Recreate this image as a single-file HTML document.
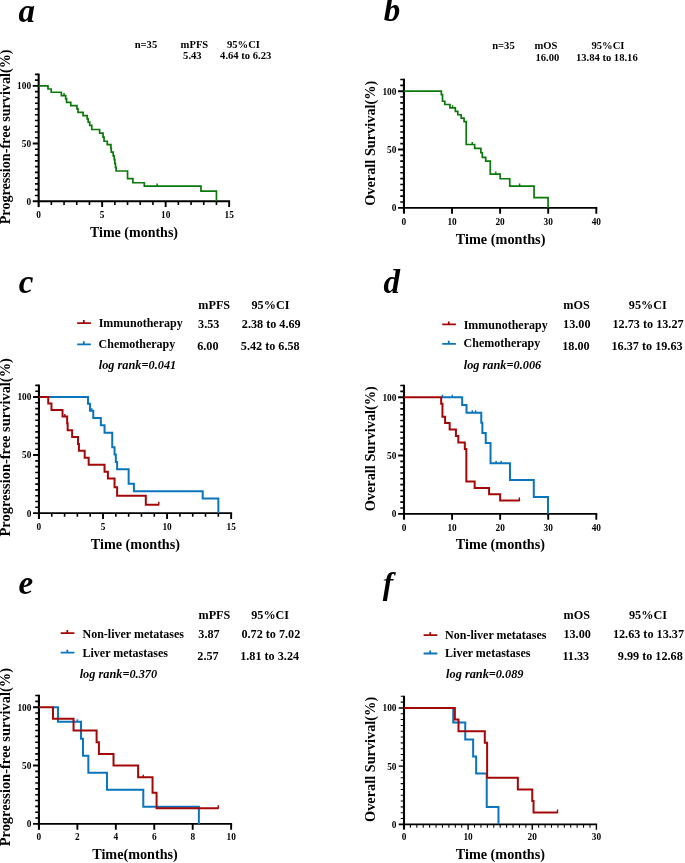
<!DOCTYPE html>
<html lang="en">
<head>
<meta charset="utf-8">
<title>Kaplan-Meier survival curves</title>
<style>
html,body{margin:0;padding:0;background:#fff;}
body{width:685px;height:863px;overflow:hidden;}
svg{display:block;}
text{font-family:"Liberation Serif","Times New Roman",serif;font-weight:bold;fill:#000;}
.tk{font-size:9.3px;}
.ax{font-size:14.1px;}
.pl{font-size:33px;font-style:italic;}
.hd{font-size:10.6px;}
.lg{font-size:12px;}
.nm{font-size:12.2px;}
.lr{font-size:12.3px;font-style:italic;}
</style>
</head>
<body>
<svg width="685" height="863" viewBox="0 0 685 863">
<rect width="685" height="863" fill="#fff"/>
<g>
<path d="M38.65 73.57V207.10" fill="none" stroke="#000" stroke-width="2.10"/>
<path d="M32.75 201.20H230.10" fill="none" stroke="#000" stroke-width="1.85"/>
<path d="M38.65 143.55h-5.90M38.65 85.90h-5.90M102.15 201.20v5.90M165.65 201.20v5.90M229.15 201.20v5.90" stroke="#000" stroke-width="1.90" fill="none"/>
<path d="M38.65 195.44h-3.70M38.65 189.67h-3.70M38.65 183.91h-3.70M38.65 178.14h-3.70M38.65 172.38h-3.70M38.65 166.61h-3.70M38.65 160.84h-3.70M38.65 155.08h-3.70M38.65 149.31h-3.70M38.65 137.78h-3.70M38.65 132.02h-3.70M38.65 126.25h-3.70M38.65 120.49h-3.70M38.65 114.73h-3.70M38.65 108.96h-3.70M38.65 103.20h-3.70M38.65 97.43h-3.70M38.65 91.67h-3.70M38.65 80.14h-3.70M38.65 74.37h-3.70M51.35 201.20v3.70M64.05 201.20v3.70M76.75 201.20v3.70M89.45 201.20v3.70M114.85 201.20v3.70M127.55 201.20v3.70M140.25 201.20v3.70M152.95 201.20v3.70M178.35 201.20v3.70M191.05 201.20v3.70M203.75 201.20v3.70M216.45 201.20v3.70" stroke="#000" stroke-width="1.60" fill="none"/>
<path d="M38.65 85.90H47.98V89.01H51.22V92.24H61.38V95.59H65.70V98.93H66.59V102.39H70.78V105.62H77.00V108.96H78.02V112.30H83.10V115.53H87.16V118.88H88.18V122.10H89.70V125.45H91.74V129.48H99.61V133.17H103.04V137.21H104.06V141.24H107.23V144.59H110.91V148.39H111.29V152.08H113.20V155.89H114.22V159.69H114.85V163.50H115.48V167.30H116.12V170.99H127.55V178.60H132.88V182.75H144.31V186.10H200.96V191.17H216.45V201.20" fill="none" stroke="#0a780a" stroke-width="1.70" stroke-linejoin="miter"/>
<path d="M64.05 95.59v-2.5M157.14 186.10v-2.5" fill="none" stroke="#0a780a" stroke-width="1.45"/>
<text class="tk" x="31.05" y="204.60" text-anchor="end">0</text>
<text class="tk" x="31.05" y="146.95" text-anchor="end">50</text>
<text class="tk" x="31.05" y="89.30" text-anchor="end">100</text>
<text class="tk" x="38.65" y="217.90" text-anchor="middle">0</text>
<text class="tk" x="102.15" y="217.90" text-anchor="middle">5</text>
<text class="tk" x="165.65" y="217.90" text-anchor="middle">10</text>
<text class="tk" x="229.15" y="217.90" text-anchor="middle">15</text>
<text class="ax" style="font-size:14.00px" x="134.00" y="236.70" text-anchor="middle">Time (months)</text>
<text class="ax" style="font-size:14.15px" transform="translate(10.40 136.90) rotate(-90)" text-anchor="middle">Progression-free survival(%)</text>
<text class="pl" x="18.40" y="21.50">a</text>
<text class="hd" x="134.70" y="47.80">n=35</text>
<text class="hd" x="180.60" y="47.80">mPFS</text>
<text class="hd" x="227.00" y="47.80">95%CI</text>
<text class="hd" x="183.10" y="59.40">5.43</text>
<text class="hd" x="220.10" y="59.40">4.64 to 6.23</text>
</g>
<g>
<path d="M403.95 78.74V213.70" fill="none" stroke="#000" stroke-width="2.10"/>
<path d="M398.05 207.80H597.25" fill="none" stroke="#000" stroke-width="1.85"/>
<path d="M403.95 149.50h-5.90M403.95 91.20h-5.90M452.04 207.80v5.90M500.12 207.80v5.90M548.21 207.80v5.90M596.30 207.80v5.90" stroke="#000" stroke-width="1.90" fill="none"/>
<path d="M403.95 201.97h-3.70M403.95 196.14h-3.70M403.95 190.31h-3.70M403.95 184.48h-3.70M403.95 178.65h-3.70M403.95 172.82h-3.70M403.95 166.99h-3.70M403.95 161.16h-3.70M403.95 155.33h-3.70M403.95 143.67h-3.70M403.95 137.84h-3.70M403.95 132.01h-3.70M403.95 126.18h-3.70M403.95 120.35h-3.70M403.95 114.52h-3.70M403.95 108.69h-3.70M403.95 102.86h-3.70M403.95 97.03h-3.70M403.95 85.37h-3.70M403.95 79.54h-3.70" stroke="#000" stroke-width="1.60" fill="none"/>
<path d="M403.95 91.20H441.36V94.58H442.52V101.23H444.82V104.49H449.97V107.87H455.36V111.37H457.81V114.75H461.17V118.13H464.06V121.63H466.22V144.49H474.64V148.33H480.89V152.76H482.33V157.31H485.70V161.16H490.27V174.10H500.12V178.77H509.74V186.11H534.03V197.54H548.07V207.80" fill="none" stroke="#0a780a" stroke-width="1.70" stroke-linejoin="miter"/>
<path d="M452.52 107.87v-2.5M472.23 144.49v-2.5M495.80 174.10v-2.5M519.60 186.11v-2.5" fill="none" stroke="#0a780a" stroke-width="1.45"/>
<text class="tk" x="396.35" y="211.20" text-anchor="end">0</text>
<text class="tk" x="396.35" y="152.90" text-anchor="end">50</text>
<text class="tk" x="396.35" y="94.60" text-anchor="end">100</text>
<text class="tk" x="403.95" y="224.50" text-anchor="middle">0</text>
<text class="tk" x="452.04" y="224.50" text-anchor="middle">10</text>
<text class="tk" x="500.12" y="224.50" text-anchor="middle">20</text>
<text class="tk" x="548.21" y="224.50" text-anchor="middle">30</text>
<text class="tk" x="596.30" y="224.50" text-anchor="middle">40</text>
<text class="ax" style="font-size:14.25px" x="500.60" y="243.65" text-anchor="middle">Time (months)</text>
<text class="ax" style="font-size:14.30px" transform="translate(374.80 143.20) rotate(-90)" text-anchor="middle">Overall Survival(%)</text>
<text class="pl" x="383.70" y="21.45">b</text>
<text class="hd" x="492.20" y="48.90">n=35</text>
<text class="hd" x="534.40" y="48.90">mOS</text>
<text class="hd" x="591.50" y="48.90">95%CI</text>
<text class="hd" x="535.40" y="60.60">16.00</text>
<text class="hd" x="575.90" y="60.60">13.84 to 18.16</text>
</g>
<g>
<path d="M38.95 384.59V519.00" fill="none" stroke="#000" stroke-width="2.10"/>
<path d="M33.05 513.10H232.10" fill="none" stroke="#000" stroke-width="1.85"/>
<path d="M38.95 455.05h-5.90M38.95 397.00h-5.90M103.02 513.10v5.90M167.08 513.10v5.90M231.15 513.10v5.90" stroke="#000" stroke-width="1.90" fill="none"/>
<path d="M38.95 507.30h-3.70M38.95 501.49h-3.70M38.95 495.69h-3.70M38.95 489.88h-3.70M38.95 484.08h-3.70M38.95 478.27h-3.70M38.95 472.47h-3.70M38.95 466.66h-3.70M38.95 460.86h-3.70M38.95 449.25h-3.70M38.95 443.44h-3.70M38.95 437.63h-3.70M38.95 431.83h-3.70M38.95 426.02h-3.70M38.95 420.22h-3.70M38.95 414.42h-3.70M38.95 408.61h-3.70M38.95 402.81h-3.70M38.95 391.19h-3.70M38.95 385.39h-3.70M51.76 513.10v3.70M64.58 513.10v3.70M77.39 513.10v3.70M90.20 513.10v3.70M115.83 513.10v3.70M128.64 513.10v3.70M141.46 513.10v3.70M154.27 513.10v3.70M179.90 513.10v3.70M192.71 513.10v3.70M205.52 513.10v3.70M218.34 513.10v3.70" stroke="#000" stroke-width="1.60" fill="none"/>
<path d="M48.30 397.00H88.03V403.85H89.95V410.70H93.28V418.01H100.84V425.33H104.55V432.64H112.24V447.27H114.55V454.59H115.83V461.90H117.11V469.21H128.64V483.84H133.90V491.16H202.70V498.47H218.34V513.10" fill="none" stroke="#0a74bc" stroke-width="2.00" stroke-linejoin="miter"/>
<path d="M91.74 410.70v-2.5" fill="none" stroke="#0a74bc" stroke-width="1.45"/>
<path d="M158.81 504.74v-2.5" fill="none" stroke="#a30808" stroke-width="1.4" stroke-linecap="round"/>
<path d="M38.95 397.00H48.25V403.50H51.46V409.89H62.53V416.39H67.14V423.24H67.65V430.20H72.14V437.05H78.03V444.02H78.93V450.87H84.69V457.84H88.67V464.69H104.55V471.65H107.89V478.50H114.55V487.21H117.11V495.80H145.81V504.74H159.01" fill="none" stroke="#a30808" stroke-width="2.00" stroke-linejoin="miter"/>
<path d="M64.83 416.39v-2.5" fill="none" stroke="#a30808" stroke-width="1.45"/>
<text class="tk" x="31.35" y="516.50" text-anchor="end">0</text>
<text class="tk" x="31.35" y="458.45" text-anchor="end">50</text>
<text class="tk" x="31.35" y="400.40" text-anchor="end">100</text>
<text class="tk" x="38.95" y="529.80" text-anchor="middle">0</text>
<text class="tk" x="103.02" y="529.80" text-anchor="middle">5</text>
<text class="tk" x="167.08" y="529.80" text-anchor="middle">10</text>
<text class="tk" x="231.15" y="529.80" text-anchor="middle">15</text>
<text class="ax" style="font-size:14.20px" x="135.40" y="549.20" text-anchor="middle">Time (months)</text>
<text class="ax" style="font-size:14.45px" transform="translate(10.40 447.30) rotate(-90)" text-anchor="middle">Progression-free survival(%)</text>
<text class="pl" x="18.80" y="292.90">c</text>
<text class="lg" x="98.70" y="326.90">Immunotherapy</text>
<text class="lg" x="98.60" y="348.40">Chemotherapy</text>
<text class="lr" x="98.80" y="369.30">log rank=0.041</text>
<text class="nm" x="198.30" y="308.90">mPFS</text>
<text class="nm" x="251.50" y="308.90">95%CI</text>
<text class="nm" x="198.10" y="327.80">3.53</text>
<text class="nm" x="241.80" y="327.80">2.38 to 4.69</text>
<text class="nm" x="197.20" y="349.70">6.00</text>
<text class="nm" x="240.80" y="349.70">5.42 to 6.58</text>
<path d="M77.20 323.10h13.7M83.80 323.10v-3" fill="none" stroke="#a30808" stroke-width="1.8"/>
<path d="M77.20 344.30h13.7M83.80 344.30v-3" fill="none" stroke="#0a74bc" stroke-width="1.8"/>
</g>
<g>
<path d="M404.00 384.74V519.70" fill="none" stroke="#000" stroke-width="2.10"/>
<path d="M398.10 513.80H597.25" fill="none" stroke="#000" stroke-width="1.85"/>
<path d="M404.00 455.50h-5.90M404.00 397.20h-5.90M452.07 513.80v5.90M500.15 513.80v5.90M548.22 513.80v5.90M596.30 513.80v5.90" stroke="#000" stroke-width="1.90" fill="none"/>
<path d="M404.00 507.97h-3.70M404.00 502.14h-3.70M404.00 496.31h-3.70M404.00 490.48h-3.70M404.00 484.65h-3.70M404.00 478.82h-3.70M404.00 472.99h-3.70M404.00 467.16h-3.70M404.00 461.33h-3.70M404.00 449.67h-3.70M404.00 443.84h-3.70M404.00 438.01h-3.70M404.00 432.18h-3.70M404.00 426.35h-3.70M404.00 420.52h-3.70M404.00 414.69h-3.70M404.00 408.86h-3.70M404.00 403.03h-3.70M404.00 391.37h-3.70M404.00 385.54h-3.70" stroke="#000" stroke-width="1.60" fill="none"/>
<path d="M441.26 397.20H462.17V405.01H466.50V412.71H481.26V422.85H482.36V433.00H485.73V443.02H490.53V463.31H509.96V480.10H533.80V496.89H547.98V513.80" fill="none" stroke="#0a74bc" stroke-width="2.00" stroke-linejoin="miter"/>
<path d="M442.46 397.20v-2.5M452.32 397.20v-2.5M472.27 412.71v-2.5M475.63 412.71v-2.5M496.06 463.31v-2.5M501.11 463.31v-2.5" fill="none" stroke="#0a74bc" stroke-width="1.45"/>
<path d="M519.37 500.51v-2.5" fill="none" stroke="#a30808" stroke-width="1.4" stroke-linecap="round"/>
<path d="M404.00 397.20H441.16V403.73H442.46V416.67H445.10V423.09H449.67V429.61H455.92V436.03H458.32V442.56H464.81V448.97H466.35V481.39H474.67V487.91H489.09V494.33H500.15V500.51H519.57" fill="none" stroke="#a30808" stroke-width="2.00" stroke-linejoin="miter"/>
<text class="tk" x="396.40" y="517.20" text-anchor="end">0</text>
<text class="tk" x="396.40" y="458.90" text-anchor="end">50</text>
<text class="tk" x="396.40" y="400.60" text-anchor="end">100</text>
<text class="tk" x="404.00" y="530.50" text-anchor="middle">0</text>
<text class="tk" x="452.07" y="530.50" text-anchor="middle">10</text>
<text class="tk" x="500.15" y="530.50" text-anchor="middle">20</text>
<text class="tk" x="548.22" y="530.50" text-anchor="middle">30</text>
<text class="tk" x="596.30" y="530.50" text-anchor="middle">40</text>
<text class="ax" style="font-size:14.20px" x="500.40" y="549.20" text-anchor="middle">Time (months)</text>
<text class="ax" style="font-size:14.30px" transform="translate(374.80 448.70) rotate(-90)" text-anchor="middle">Overall Survival(%)</text>
<text class="pl" x="383.50" y="293.00">d</text>
<text class="lg" x="463.70" y="328.80">Immunotherapy</text>
<text class="lg" x="463.60" y="347.20">Chemotherapy</text>
<text class="lr" x="463.80" y="369.00">log rank=0.006</text>
<text class="nm" x="563.30" y="308.90">mOS</text>
<text class="nm" x="628.80" y="308.90">95%CI</text>
<text class="nm" x="563.10" y="327.80">13.00</text>
<text class="nm" x="612.50" y="327.80">12.73 to 13.27</text>
<text class="nm" x="562.20" y="349.70">18.00</text>
<text class="nm" x="611.50" y="349.70">16.37 to 19.63</text>
<path d="M442.20 324.40h13.7M448.80 324.40v-3" fill="none" stroke="#a30808" stroke-width="1.8"/>
<path d="M442.20 343.80h13.7M448.80 343.80v-3" fill="none" stroke="#0a74bc" stroke-width="1.8"/>
</g>
<g>
<path d="M38.94 694.73V829.80" fill="none" stroke="#000" stroke-width="2.10"/>
<path d="M33.04 823.90H232.10" fill="none" stroke="#000" stroke-width="1.85"/>
<path d="M38.94 765.55h-5.90M38.94 707.20h-5.90M77.38 823.90v5.90M115.82 823.90v5.90M154.27 823.90v5.90M192.71 823.90v5.90M231.15 823.90v5.90" stroke="#000" stroke-width="1.90" fill="none"/>
<path d="M38.94 818.06h-3.70M38.94 812.23h-3.70M38.94 806.39h-3.70M38.94 800.56h-3.70M38.94 794.73h-3.70M38.94 788.89h-3.70M38.94 783.05h-3.70M38.94 777.22h-3.70M38.94 771.38h-3.70M38.94 759.72h-3.70M38.94 753.88h-3.70M38.94 748.05h-3.70M38.94 742.21h-3.70M38.94 736.38h-3.70M38.94 730.54h-3.70M38.94 724.71h-3.70M38.94 718.87h-3.70M38.94 713.04h-3.70M38.94 701.37h-3.70M38.94 695.53h-3.70" stroke="#000" stroke-width="1.60" fill="none"/>
<path d="M53.16 707.20H57.97V721.79H81.03V738.71H82.96V755.86H88.34V772.84H106.98V789.82H143.31V806.63H198.86V823.90" fill="none" stroke="#0a74bc" stroke-width="2.00" stroke-linejoin="miter"/>
<path d="M77.38 721.79v-2.5" fill="none" stroke="#0a74bc" stroke-width="1.45"/>
<path d="M218.26 808.15v-2.5" fill="none" stroke="#a30808" stroke-width="1.4" stroke-linecap="round"/>
<path d="M38.94 707.20H52.97V718.87H73.54V730.54H96.60V742.21H98.91V753.88H113.52V765.55H138.12V777.22H152.54V792.74H156.57V808.15H218.46" fill="none" stroke="#a30808" stroke-width="2.00" stroke-linejoin="miter"/>
<path d="M143.31 777.22v-2.5" fill="none" stroke="#a30808" stroke-width="1.45"/>
<text class="tk" x="31.34" y="827.30" text-anchor="end">0</text>
<text class="tk" x="31.34" y="768.95" text-anchor="end">50</text>
<text class="tk" x="31.34" y="710.60" text-anchor="end">100</text>
<text class="tk" x="38.94" y="839.80" text-anchor="middle">0</text>
<text class="tk" x="77.38" y="839.80" text-anchor="middle">2</text>
<text class="tk" x="115.82" y="839.80" text-anchor="middle">4</text>
<text class="tk" x="154.27" y="839.80" text-anchor="middle">6</text>
<text class="tk" x="192.71" y="839.80" text-anchor="middle">8</text>
<text class="tk" x="231.15" y="839.80" text-anchor="middle">10</text>
<text class="ax" style="font-size:14.20px" x="135.00" y="859.40" text-anchor="middle">Time(months)</text>
<text class="ax" style="font-size:14.45px" transform="translate(10.40 757.10) rotate(-90)" text-anchor="middle">Progression-free survival(%)</text>
<text class="pl" x="18.50" y="593.80">e</text>
<text class="lg" x="82.50" y="637.80">Non-liver metatases</text>
<text class="lg" x="82.50" y="656.80">Liver metastases</text>
<text class="lr" x="79.70" y="677.70">log rank=0.370</text>
<text class="nm" x="198.50" y="618.80">mPFS</text>
<text class="nm" x="251.20" y="618.80">95%CI</text>
<text class="nm" x="198.30" y="637.80">3.87</text>
<text class="nm" x="241.40" y="637.80">0.72 to 7.02</text>
<text class="nm" x="197.30" y="659.70">2.57</text>
<text class="nm" x="240.20" y="659.70">1.81 to 3.24</text>
<path d="M60.70 633.10h13.7M67.30 633.10v-3" fill="none" stroke="#a30808" stroke-width="1.8"/>
<path d="M60.70 652.70h13.7M67.30 652.70v-3" fill="none" stroke="#0a74bc" stroke-width="1.8"/>
</g>
<g>
<path d="M404.00 695.79V829.65" fill="none" stroke="#000" stroke-width="2.10"/>
<path d="M398.70 824.35H597.10" fill="none" stroke="#000" stroke-width="1.60"/>
<path d="M404.00 766.15h-5.30M404.00 707.95h-5.30M468.13 824.35v5.30M532.27 824.35v5.30M596.40 824.35v5.30" stroke="#000" stroke-width="1.40" fill="none"/>
<path d="M404.00 818.53h-3.30M404.00 812.71h-3.30M404.00 806.89h-3.30M404.00 801.07h-3.30M404.00 795.25h-3.30M404.00 789.43h-3.30M404.00 783.61h-3.30M404.00 777.79h-3.30M404.00 771.97h-3.30M404.00 760.33h-3.30M404.00 754.51h-3.30M404.00 748.69h-3.30M404.00 742.87h-3.30M404.00 737.05h-3.30M404.00 731.23h-3.30M404.00 725.41h-3.30M404.00 719.59h-3.30M404.00 713.77h-3.30M404.00 702.13h-3.30M404.00 696.31h-3.30M410.41 824.35v3.30M416.83 824.35v3.30M423.24 824.35v3.30M429.65 824.35v3.30M436.07 824.35v3.30M442.48 824.35v3.30M448.89 824.35v3.30M455.31 824.35v3.30M461.72 824.35v3.30M474.55 824.35v3.30M480.96 824.35v3.30M487.37 824.35v3.30M493.79 824.35v3.30M500.20 824.35v3.30M506.61 824.35v3.30M513.03 824.35v3.30M519.44 824.35v3.30M525.85 824.35v3.30M538.68 824.35v3.30M545.09 824.35v3.30M551.51 824.35v3.30M557.92 824.35v3.30M564.33 824.35v3.30M570.75 824.35v3.30M577.16 824.35v3.30M583.57 824.35v3.30M589.99 824.35v3.30" stroke="#000" stroke-width="1.05" fill="none"/>
<path d="M452.42 707.95H453.25V722.50H465.25V739.49H473.14V756.49H476.15V773.43H486.73V807.12H498.47V824.35" fill="none" stroke="#0a74bc" stroke-width="2.00" stroke-linejoin="miter"/>
<path d="M557.53 812.48v-2.5" fill="none" stroke="#a30808" stroke-width="1.4" stroke-linecap="round"/>
<path d="M404.00 707.95H454.86V719.59H458.51V731.23H484.81V742.87H487.12V777.79H517.84V789.43H532.27V801.07H533.55V812.48H557.73" fill="none" stroke="#a30808" stroke-width="2.00" stroke-linejoin="miter"/>
<text class="tk" x="396.50" y="827.75" text-anchor="end">0</text>
<text class="tk" x="396.50" y="769.55" text-anchor="end">50</text>
<text class="tk" x="396.50" y="711.35" text-anchor="end">100</text>
<text class="tk" x="404.00" y="840.25" text-anchor="middle">0</text>
<text class="tk" x="468.13" y="840.25" text-anchor="middle">10</text>
<text class="tk" x="532.27" y="840.25" text-anchor="middle">20</text>
<text class="tk" x="596.40" y="840.25" text-anchor="middle">30</text>
<text class="ax" style="font-size:14.20px" x="500.40" y="858.90" text-anchor="middle">Time (months)</text>
<text class="ax" style="font-size:14.30px" transform="translate(374.80 759.40) rotate(-90)" text-anchor="middle">Overall Survival(%)</text>
<text class="pl" style="font-size:31.5px" x="382.80" y="594.30">f</text>
<text class="lg" x="445.10" y="639.20">Non-liver metatases</text>
<text class="lg" x="445.10" y="657.20">Liver metastases</text>
<text class="lr" x="446.10" y="677.70">log rank=0.089</text>
<text class="nm" x="563.60" y="618.80">mOS</text>
<text class="nm" x="629.00" y="618.80">95%CI</text>
<text class="nm" x="563.40" y="637.80">13.00</text>
<text class="nm" x="612.90" y="637.80">12.63 to 13.37</text>
<text class="nm" x="562.40" y="659.70">11.33</text>
<text class="nm" x="617.80" y="659.70">9.99 to 12.68</text>
<path d="M423.60 635.20h13.7M430.20 635.20v-3" fill="none" stroke="#a30808" stroke-width="1.8"/>
<path d="M423.60 653.50h13.7M430.20 653.50v-3" fill="none" stroke="#0a74bc" stroke-width="1.8"/>
</g>
</svg>
</body>
</html>
